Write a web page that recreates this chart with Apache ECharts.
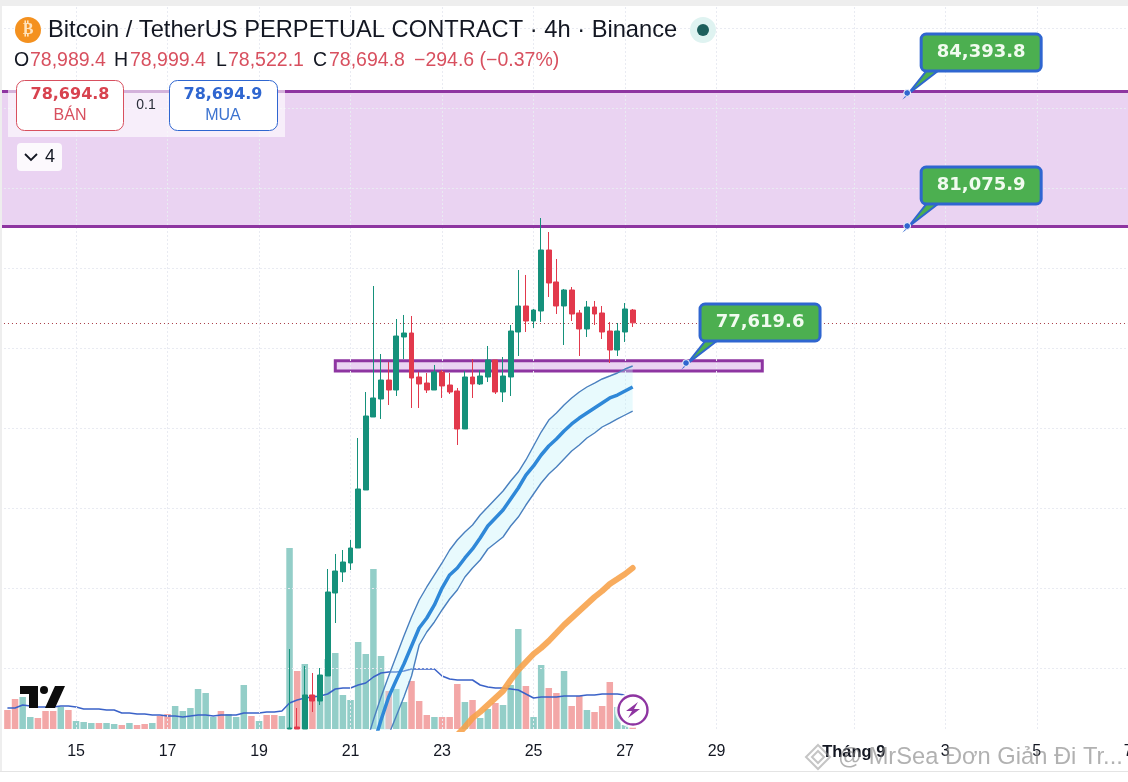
<!DOCTYPE html>
<html><head><meta charset="utf-8">
<style>html,body{margin:0;padding:0;background:#fff}#c{width:1128px;height:782px}</style>
<script src="https://cdn.jsdelivr.net/npm/echarts@6/dist/echarts.min.js"></script>
</head><body><div id="c"></div>
<script>
// ---- data ----
const barCount = 149;
const tickBars = [10, 22, 34, 46, 58, 70, 82, 94, 112, 124, 136, 148];
const tickLabels = ['15', '17', '19', '21', '23', '25', '27', '29', 'Tháng 9', '3', '5', '7'];
const firstCandleBar = 38;
// [open, close, low, high]; the first three run off the bottom of the view
const candles = [
  [68714,68739,68714,70680],[68763,68714,68714,69230],[68714,69550,68714,70262],[69550,69402,69132,70090],
  [69402,70041,69304,70213],[70017,72081,70017,72646],[72056,72597,71319,73015],[72573,72818,72327,73113],
  [72794,73162,72622,73359],[73162,74612,73162,75866],[74588,76406,74588,76996],[76382,76849,76382,79601],
  [76824,77291,76333,77930],[77291,77045,76677,77733],[77045,78372,76898,78790],[78348,78446,77807,78889],
  [78446,77340,76603,78864],[77365,77193,76603,77488],[77217,77045,76972,77463],[77045,77488,77045,77660],
  [77488,77144,76849,77537],[77168,76996,76947,77463],[77021,76087,75694,77095],[76087,77365,76087,77512],
  [77365,77193,76849,77807],[77193,77389,77168,77537],[77365,77783,77242,78127],[77783,76996,76947,77783],
  [76996,77389,76750,77856],[77365,78495,76898,78643],[78471,79110,77881,79994],[79110,78741,78471,79872],
  [78741,79011,78569,79036],[78987,80486,78717,81272],[80486,79675,79331,80928],[79700,79110,78913,80265],
  [79110,79503,78151,79528],[79503,78913,78741,79577],[78938,78545,77881,79011],[78545,79085,78348,79233],
  [79085,78913,78643,79233],[78938,78471,78299,79110],[78495,78028,77709,78717],[78028,78495,77881,78692],
  [78471,79036,78225,79183],[79011,78695,78594,79036]
];
const volumeFirstBar = 1;
const volumeBars = [19,30,32,12,11,18,18,22,19,8,7,6,6,6,5,4,6,4,5,6,13,15,23,18,21,40,36,12,18,15,12,44,13,8,14,14,13,181,58,65,34,32,70,76,34,29,87,75,160,73,38,40,27,48,28,14,12,12,12,45,27,29,11,20,26,24,44,100,43,12,64,41,36,58,23,33,19,17,23,47,22,4,2];
const volumeSide = ['d','d','u','u','d','d','d','u','d','u','u','u','d','u','u','d','u','d','d','u','d','d','u','u','u','u','u','u','d','u','u','u','d','u','d','d','u','u','d','u','d','u','u','u','u','u','u','u','u','u','d','u','u','d','d','d','u','d','d','d','u','d','u','u','d','u','u','u','d','u','u','d','d','u','d','d','u','d','d','d','u','u','d'];
const volumeAverage = [21,21,24,23,22,22,22,23,23,22,20,20,20,19,19,16,16,15,15,14,14,13,13,12,13,14,14,13,14,14,14,16,16,16,17,17,18,26,29,31,32,33,35,40,41,41,44,46,52,56,57,57,58,60,60,60,60,53,50,49,49,49,44,42,41,41,40,39,35,31,32,32,32,33,33,33,34,34,35,35,35,34];
const bandFirstBar = 48;
const bandUpper = [68321,68935,69501,70017,70508,71000,71467,71884,72204,72499,72794,73113,73359,73556,73728,73973,74170,74367,74563,74809,75030,75325,75669,76013,76308,76480,76677,76849,76996,77119,77217,77316,77389,77463,77561,77635];
const bandMiddle = [68075,68321,68935,69501,69918,70312,70754,71196,71442,71762,72179,72499,72671,72917,73138,73408,73703,73900,74096,74367,74637,74956,75178,75448,75669,75841,76038,76210,76357,76480,76603,76726,76849,76922,77021,77119];
const bandLower = [67706,67829,68198,68567,69034,69501,70017,70778,71098,71344,71639,71909,72130,72450,72671,72867,73138,73285,73433,73703,73924,74219,74489,74760,74981,75153,75350,75546,75694,75866,75989,76136,76234,76333,76431,76529];
const slowFirstBar = 60;
const slowLine = [68567,68763,68984,69132,69304,69476,69648,69918,70164,70361,70557,70705,70877,71073,71270,71442,71614,71786,71958,72106,72278,72400,72523,72671];
const zoneTop = 84393.8, zoneBottom = 81075.9;
const lastClose = 78694.8;
const boxTop = 77765, boxBottom = 77512, boxFromBar = 44, boxToBar = 100;
const priceLevels = [85942,83976,82010,80044,78078,76112,74146,72180,70214];
const calloutBars = [119, 119, 90];
const calloutPrices = [84345, 81075.9, 77709];
const calloutLabels = ['84,393.8', '81,075.9', '77,619.6'];
const priceMin = 68714, priceMax = 86630, volumeMax = 729;
const titleText = 'Bitcoin / TetherUS PERPETUAL CONTRACT · 4h · Binance';
const sellPrice = '78,694.8', buyPrice = '78,694.9';

// ---- helpers ----
const UP = '#15917b', DOWN = '#e2394c', PURPLE = '#8e35a1', BLUE = '#2f66d0';
const FONT = '"Liberation Sans", Arial, sans-serif';
const pad = (start, arr) => new Array(start).fill('-').concat(arr);
const pad2 = n => String(n).padStart(2, '0');
const categories = Array.from({length: barCount}, (_, i) => {
  const d = new Date(Date.UTC(2025, 7, 13, 8 + 4 * i));
  return pad2(d.getUTCMonth() + 1) + '-' + pad2(d.getUTCDate()) + ' ' + pad2(d.getUTCHours()) + 'h';
});
const candleData = pad(firstCandleBar, candles);
const volumeData = pad(volumeFirstBar, volumeBars.map((v, i) => ({
  value: v,
  itemStyle: {color: volumeSide[i] === 'u' ? '#93cec8' : '#f3a7a7'}
})));
const bandWidth = bandUpper.map((u, i) => u - bandLower[i]);

function txt(text, x, y, fill, font, align) {
  return {type: 'text', silent: true, z: 60, style: {text, x, y, fill, font, textAlign: align || 'left', verticalAlign: 'middle'}};
}
function rect(x, y, w, h, fill, stroke, r, lw) {
  return {type: 'rect', silent: true, z: 55, shape: {x, y, width: w, height: h, r: r || 0},
    style: {fill, stroke: stroke || null, lineWidth: lw || 0}};
}
function poly(points, fill, z) {
  return {type: 'polygon', silent: true, z: z || 58, shape: {points}, style: {fill}};
}
function circle(cx, cy, r, fill, stroke, lw) {
  return {type: 'circle', silent: true, z: 58, shape: {cx, cy, r}, style: {fill, stroke: stroke || null, lineWidth: lw || 0}};
}
const lineSeries = (name, data, color, width, extra) => Object.assign({
  name, type: 'line', data, showSymbol: false, symbol: 'none', smooth: false, silent: true,
  lineStyle: {color, width}, z: 7, animation: false
}, extra || {});

const option = {
  animation: false,
  backgroundColor: '#ffffff',
  grid: {left: -4.025, top: 0, width: 1136.125, height: 729, containLabel: false, outerBoundsMode: 'none'},
  title: {
    text: titleText, left: 48, top: 18, padding: 0,
    textStyle: {fontFamily: FONT, fontSize: 23.7, fontWeight: 'normal', color: '#131722'}
  },
  xAxis: {
    type: 'category', data: categories, boundaryGap: true,
    axisLine: {show: false}, axisTick: {show: false}, splitLine: {show: false},
    axisLabel: {
      interval: i => tickBars.includes(i), margin: 15, hideOverlap: false,
      color: '#131722', fontFamily: FONT, fontSize: 16,
      formatter: (v, i) => {
        const t = tickLabels[tickBars.indexOf(i)];
        return t && t.length > 2 ? '{m|' + t + '}' : (t || '');
      },
      rich: {m: {fontWeight: 'bold', fontSize: 16.5, fontFamily: FONT, color: '#131722'}}
    }
  },
  yAxis: [
    {type: 'value', min: priceMin, max: priceMax, show: false, splitLine: {show: false}},
    {type: 'value', min: 0, max: volumeMax, show: false, splitLine: {show: false}}
  ],
  series: [
    {
      name: 'zones', type: 'line', data: [], silent: true, z: 1, symbol: 'none',
      markArea: {silent: true, z: 1, itemStyle: {color: '#ead3f2'}, data: [
        [{yAxis: zoneBottom}, {yAxis: zoneTop}]
      ]}
    },
    {
      name: 'grid', type: 'line', data: [], silent: true, z: 2, symbol: 'none',
      markLine: {silent: true, symbol: 'none', animation: false, label: {show: false},
        lineStyle: {color: '#e9ebf2', type: [2, 2], width: 1},
        data: priceLevels.map(p => ({yAxis: p})).concat(tickBars.map(b => ({xAxis: b})))}
    },
    {
      name: 'Volume', type: 'bar', data: volumeData, yAxisIndex: 1, barWidth: 6.5, z: 3, silent: true
    },
    lineSeries('Volume MA', pad(volumeFirstBar, volumeAverage), '#3a62c8', 1.5, {yAxisIndex: 1, z: 4}),
    {
      name: 'level', type: 'line', data: [], silent: true, z: 5, symbol: 'none',
      markLine: {silent: true, symbol: 'none', animation: false, label: {show: false}, data: [
        {yAxis: zoneTop, lineStyle: {color: PURPLE, width: 3, type: 'solid'}},
        {yAxis: zoneBottom, lineStyle: {color: PURPLE, width: 3, type: 'solid'}},
        {yAxis: lastClose, lineStyle: {color: '#a83c46', width: 1, type: [1, 3]}}
      ]},
      markArea: {silent: true, itemStyle: {color: '#ead3f2', borderColor: PURPLE, borderWidth: 3}, data: [
        [{xAxis: boxFromBar, yAxis: boxTop}, {xAxis: boxToBar, yAxis: boxBottom}]
      ]}
    },
    lineSeries('Band lower', pad(bandFirstBar, bandLower), '#4a80bf', 1.4, {stack: 'band', z: 6}),
    lineSeries('Band upper', pad(bandFirstBar, bandWidth), '#4a80bf', 1.4, {
      stack: 'band', z: 6, areaStyle: {color: 'rgba(190,240,248,0.5)', origin: 'auto'}
    }),
    lineSeries('Band middle', pad(bandFirstBar, bandMiddle), '#2f88d8', 3.5),
    lineSeries('Slow average', pad(slowFirstBar, slowLine), 'rgba(247,160,72,0.88)', 6, {lineStyle: {color: 'rgba(247,160,72,0.88)', width: 6, cap: 'round'}}),
    {
      name: 'BTCUSDT', type: 'candlestick', data: candleData, barWidth: 5.4, z: 8, silent: true,
      itemStyle: {color: UP, color0: DOWN, borderColor: UP, borderColor0: DOWN, borderWidth: 1}
    },
    {
      name: 'Callouts', type: 'custom', z: 20, clip: false, silent: true,
      data: calloutBars.map((b, i) => [b, calloutPrices[i]]),
      encode: {x: 0, y: 1},
      renderItem: (params, api) => {
        const p = api.coord([api.value(0), api.value(1)]);
        const bx = p[0] + 14, by = p[1] - 59;
        return {type: 'group', children: [
          {type: 'polygon', shape: {points: [[p[0] + 1, p[1] + 1], [bx + 6, by + 36], [bx + 18, by + 36]]},
            style: {fill: '#4caf50', stroke: BLUE, lineWidth: 2}},
          {type: 'rect', shape: {x: bx, y: by, width: 120, height: 37, r: 5},
            style: {fill: '#4caf50', stroke: BLUE, lineWidth: 3}},
          {type: 'circle', shape: {cx: p[0], cy: p[1], r: 3.4}, style: {fill: BLUE, stroke: '#ffffff', lineWidth: 1}},
          {type: 'text', style: {text: calloutLabels[params.dataIndex], x: bx + 60, y: by + 18.5,
            fill: '#f1fbef', font: 'bold 18px "DejaVu Sans"', textAlign: 'center', verticalAlign: 'middle'}}
        ]};
      }
    }
  ],
  graphic: [
    rect(0, 0, 1128, 6, '#eeeeee'),
    rect(0, 0, 2, 772, '#eeeeee'),
    rect(0, 771, 1128, 1, '#e4e4e4'),
    // header
    circle(28, 30, 13, '#f4911f'),
    txt('₿', 28, 30, '#ffe3bd', 'bold 16px "DejaVu Sans"', 'center'),
    circle(703, 30, 13, '#dff3f1'),
    circle(703, 30, 6, '#1d5f5c'),
    txt('O', 14, 61, '#131722', '19.5px ' + FONT),
    txt('78,989.4', 30, 61, '#d8505f', '19.5px ' + FONT),
    txt('H', 114, 61, '#131722', '19.5px ' + FONT),
    txt('78,999.4', 130, 61, '#d8505f', '19.5px ' + FONT),
    txt('L', 216, 61, '#131722', '19.5px ' + FONT),
    txt('78,522.1', 228, 61, '#d8505f', '19.5px ' + FONT),
    txt('C', 313, 61, '#131722', '19.5px ' + FONT),
    txt('78,694.8', 329, 61, '#d8505f', '19.5px ' + FONT),
    txt('−294.6 (−0.37%)', 414, 61, '#d8505f', '19.5px ' + FONT),
    // trade panel
    rect(8, 80, 277, 57, 'rgba(255,255,255,0.62)'),
    rect(16.5, 80.5, 107, 50, '#ffffff', '#d8505f', 8, 1),
    rect(169.5, 80.5, 108, 50, '#ffffff', '#2f66d0', 8, 1),
    txt(sellPrice, 70, 95, '#d8434f', 'bold 16px "DejaVu Sans"', 'center'),
    txt('BÁN', 70, 116, '#d8505f', '16px ' + FONT, 'center'),
    txt('0.1', 146, 105, '#2a2e39', '14px ' + FONT, 'center'),
    txt(buyPrice, 223, 95, '#2f66d0', 'bold 16px "DejaVu Sans"', 'center'),
    txt('MUA', 223, 116, '#3c73d0', '16px ' + FONT, 'center'),
    rect(17, 143, 45, 28, 'rgba(255,255,255,0.85)', null, 4),
    {type: 'polyline', silent: true, z: 60, shape: {points: [[25, 154], [31, 160], [37, 154]]}, style: {stroke: '#131722', lineWidth: 1.8, fill: null}},
    txt('4', 50, 157, '#131722', '18px ' + FONT, 'center'),
    // TV logo
    poly([[20, 686], [38, 686], [38, 708], [29, 708], [29, 694], [20, 694]], '#0c0c0c'),
    circle(44, 690, 4, '#0c0c0c'),
    poly([[55, 686], [65, 686], [55, 708], [45, 708]], '#0c0c0c'),
    // lightning badge
    circle(633, 710, 18, 'rgba(255,255,255,0.8)'),
    circle(633, 710, 14.5, '#ffffff', '#8e35a1', 2.4),
    poly([[638, 702], [626, 711], [632, 711], [628, 718], [640, 709], [634, 709]], '#8e35a1'),
    // watermark
    {type: 'polygon', silent: true, z: 61, shape: {points: [[818, 745], [830, 757], [818, 769], [806, 757]]},
      style: {fill: null, stroke: 'rgba(150,150,150,0.55)', lineWidth: 2}},
    {type: 'polygon', silent: true, z: 61, shape: {points: [[818, 751], [824, 757], [818, 763], [812, 757]]},
      style: {fill: null, stroke: 'rgba(150,150,150,0.55)', lineWidth: 2}},
    {type: 'text', silent: true, z: 61, style: {text: '@ MrSea Đơn Giản Đi Tr...', x: 838, y: 757,
      fill: 'rgba(125,125,125,0.6)', font: '23.7px ' + FONT, textAlign: 'left', verticalAlign: 'middle'}}
  ]
};
const chart = echarts.init(document.getElementById('c'), null, {renderer: 'canvas'});
chart.setOption(option);
</script>
</body></html>
